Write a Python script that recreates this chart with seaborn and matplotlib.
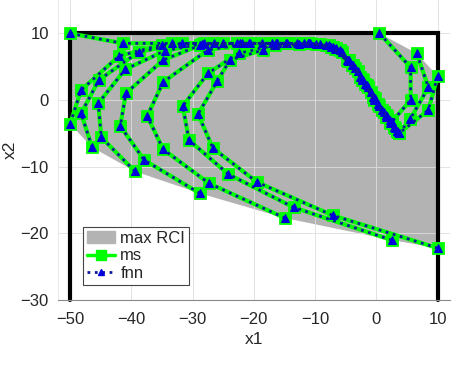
import matplotlib
matplotlib.use("Agg")
import pandas as pd
import seaborn as sns
import matplotlib.pyplot as plt
from matplotlib.lines import Line2D
from matplotlib.patches import Patch

# max RCI polygon vertices (x1, x2)
rci_x1 = [-50, 0.5, 6.6, 10, 10, 2.5, -14.9, -28.8, -39.4, -46.4, -50]
rci_x2 = [10, 10, 7.0, 3.6, -22.2, -21.0, -17.7, -14.0, -10.7, -7.1, -3.6]

# state constraint box (three visible sides)
box_x1 = [-50, -50, 10, 10]
box_x2 = [-30, 10, 10, -30]

# closed-loop trajectories (one list per start point)
ms_x1 = [
    [-50, -41.4, -33.4, -26.5, -20.6, -14.8, -9.8, -6.0, -3.5, -1.4, 0.9, 2.5],
    [-50, -48.2, -42.0, -35.0, -28.2, -22.0, -16.4, -11.2, -7.0, -4.4, -2.2, -0.2, 1.8, 3.5],
    [-46.4, -48.2, -45.3, -38.8, -31.8, -25.0, -18.7, -13.0, -8.2, -4.8, -2.6, -0.6, 1.5, 3.0],
    [-39.4, -44.9, -45.4, -41.0, -34.5, -28.5, -22.2, -16.2, -11.0, -6.8, -4.0, -1.8, 0.3, 2.2, 3.7],
    [-28.8, -37.9, -41.8, -40.9, -34.8, -28.8, -22.8, -17.0, -11.8, -7.4, -4.6, -2.4, -0.4, 1.6, 3.3],
    [-14.9, -27.3, -34.8, -37.4, -34.8, -27.5, -20.8, -14.6, -9.2, -5.6, -3.0, -0.8, 1.2, 2.9],
    [2.5, -13.5, -24.2, -30.6, -31.6, -27.5, -22.5, -16.5, -10.8, -6.6, -3.8, -1.6, 0.5, 2.3],
    [10, -7.1, -19.5, -26.7, -29.1, -26.0, -23.9, -18.5, -12.6, -7.8, -4.6, -2.3, -0.3, 1.7, 3.4],
    [0.5, 5.6, 5.6, 2.5],
    [6.6, 8.5, 5.5, 3.7],
    [10, 8.5, 3.7],
]
ms_x2 = [
    [10, 8.5, 8.5, 8.5, 8.5, 8.5, 8.4, 7.5, 4.8, 1.9, -1.5, -3.3],
    [-3.6, 1.5, 6.6, 8.3, 8.5, 8.5, 8.5, 8.5, 8.0, 6.0, 3.0, 0.3, -2.5, -4.8],
    [-7.1, -2.0, 3.0, 7.2, 8.5, 8.5, 8.5, 8.5, 8.3, 6.0, 3.4, 0.4, -2.2, -4.2],
    [-10.7, -5.6, -0.5, 4.6, 7.4, 8.4, 8.5, 8.5, 8.5, 7.6, 5.2, 2.4, -0.6, -3.0, -5.0],
    [-14.0, -9.0, -3.9, 1.0, 6.0, 8.2, 8.5, 8.5, 8.5, 8.0, 5.8, 3.0, 0.0, -2.6, -4.6],
    [-17.7, -12.5, -7.4, -2.4, 2.7, 7.5, 8.5, 8.5, 8.4, 7.2, 4.4, 1.2, -1.8, -4.0],
    [-21.0, -16.1, -11.1, -6.0, -0.9, 4.0, 7.0, 8.2, 8.5, 7.8, 5.3, 2.2, -0.9, -3.4],
    [-22.2, -17.3, -12.3, -7.2, -2.1, 2.8, 6.0, 7.5, 8.4, 8.2, 6.0, 3.2, 0.2, -2.4, -4.6],
    [10, 4.9, 0.0, -3.3],
    [7.0, 1.9, -2.9, -5.0],
    [3.6, -1.5, -5.0],
]
# the fnn controller lies on top of the ms trajectories
fnn_x1 = ms_x1
fnn_x2 = ms_x2


def to_frame(xs, ys):
    rows = []
    for k, (tx, ty) in enumerate(zip(xs, ys)):
        for i, (a, b) in enumerate(zip(tx, ty)):
            rows.append({"traj": k, "step": i, "x1": a, "x2": b})
    return pd.DataFrame(rows)


ms_df = to_frame(ms_x1, ms_x2)
fnn_df = to_frame(fnn_x1, fnn_x2)

GRAY = "#b3b3b3"
GREEN = "#00ff00"
BLUE = "#0000dd"
NAVY = "#0a1a9a"

sns.set_style("white")
plt.rcParams["font.family"] = ["Liberation Sans", "DejaVu Sans"]

fig = plt.figure(figsize=(4.74, 3.77), dpi=100)
ax = fig.add_axes([0.122, 0.204, 0.827, 0.796])

ax.fill(rci_x1, rci_x2, color=GRAY, lw=0, zorder=0.3)
ax.plot(box_x1, box_x2, color="k", lw=3, zorder=2.5, clip_on=False,
        solid_joinstyle="miter")

sns.lineplot(data=ms_df, x="x1", y="x2", units="traj", estimator=None, sort=False,
             color=GREEN, lw=3, marker="s", markersize=7, markeredgecolor=GREEN,
             markeredgewidth=2, legend=False, ax=ax, zorder=3)
sns.lineplot(data=fnn_df, x="x1", y="x2", units="traj", estimator=None, sort=False,
             color=NAVY, lw=2, linestyle=":", marker="^", markersize=6,
             markerfacecolor=BLUE, markeredgecolor=BLUE, legend=False, ax=ax, zorder=4)

ax.set_xlim(-52, 12)
ax.set_ylim(-30, 15)
ax.set_xticks(range(-50, 11, 10))
ax.set_yticks(range(-30, 11, 10))
ax.grid(True, color="#dedede", lw=0.6)
ax.set_axisbelow(True)
for s in ["top", "right"]:
    ax.spines[s].set_visible(False)
ax.spines["left"].set_color("#ebebeb")
ax.spines["bottom"].set_color("#8a8a8a")
ax.spines["bottom"].set_linewidth(0.8)
ax.tick_params(direction="out", length=2.5, width=0.6, color="#999999",
               labelsize=12, labelcolor="#262626", pad=4)
ax.tick_params(axis="x", pad=6)
ax.set_xlabel("x1", fontsize=12.5, color="#262626", labelpad=4)
ax.set_ylabel("x2", fontsize=12.5, color="#262626", labelpad=2)

handles = [
    Patch(facecolor=GRAY, edgecolor=GRAY, label="max RCI"),
    Line2D([], [], color=GREEN, lw=2.5, marker="s", markersize=7, label="ms"),
    Line2D([], [], color=NAVY, lw=2, linestyle=":", marker="^", markersize=5,
           markerfacecolor=BLUE, markeredgecolor=BLUE, label="fnn"),
]
leg = ax.legend(handles=handles, loc="lower left", bbox_to_anchor=(0.064, 0.05),
                frameon=True, fancybox=False, framealpha=1, edgecolor="#444444",
                fontsize=12, handlelength=1.7, borderpad=0.25, labelspacing=0.15,
                handletextpad=0.3, borderaxespad=0)
leg.get_frame().set_linewidth(0.8)

fig.savefig("out.png", dpi=100)
